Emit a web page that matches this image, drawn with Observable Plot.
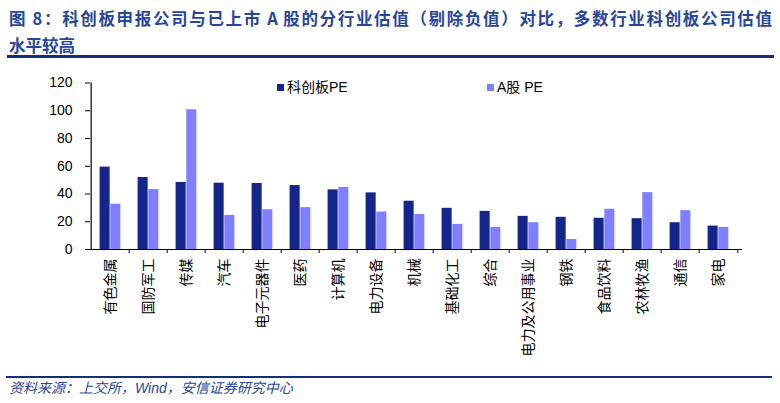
<!DOCTYPE html>
<html>
<head>
<meta charset="utf-8">
<script src="https://cdn.jsdelivr.net/npm/d3@7"></script>
<script src="https://cdn.jsdelivr.net/npm/@observablehq/plot@0.6"></script>
<style>
  html, body { margin: 0; padding: 0; background: #fff; }
  body { width: 780px; height: 403px; position: relative; overflow: hidden; font-family: "Liberation Sans", "Noto Sans CJK SC", sans-serif; }
  .title { position: absolute; left: 9px; top: 5px; width: 763px; color: #27469a; font-family: "Noto Sans CJK SC", sans-serif; font-weight: 700; font-size: 16.5px; line-height: 27px; }
  .title .l1 { display: block; text-align: justify; text-align-last: justify; white-space: nowrap; }
  .rule-top { position: absolute; left: 7px; top: 55px; width: 767px; height: 3px; background: #12307a; }
  .rule-bot { position: absolute; left: 6px; top: 376px; width: 766px; height: 2px; background: #12307a; }
  .source { position: absolute; left: 9px; top: 380px; color: #27469a; font-size: 14px; font-style: italic; font-family: "Liberation Sans", "Noto Sans CJK SC", sans-serif; line-height: 16px; }
  #chart { position: absolute; left: 0; top: 60px; }
  .legend { position: absolute; top: 79px; font-size: 14px; color: #000; font-family: "Liberation Sans", "Noto Sans CJK SC", sans-serif; line-height: 16px; white-space: nowrap; }
  .legend .sw { display: inline-block; width: 7px; height: 7px; margin-right: 3px; vertical-align: 1px; }
</style>
</head>
<body>
<div class="title"><span class="l1">图 8：科创板申报公司与已上市 A 股的分行业估值（剔除负值）对比，多数行业科创板公司估值</span><span>水平较高</span></div>
<div class="rule-top"></div>
<div id="chart"></div>
<div class="legend" id="leg1" style="left:277px"></div>
<div class="legend" id="leg2" style="left:487px"></div>
<div class="rule-bot"></div>
<div class="source">资料来源：上交所，Wind，安信证券研究中心</div>
<script>
const categories = ["有色金属","国防军工","传媒","汽车","电子元器件","医药","计算机","电力设备","机械","基础化工","综合","电力及公用事业","钢铁","食品饮料","农林牧渔","通信","家电"];
const seriesNames = ["科创板PE", "A股 PE"];
const kcbPE = [59.4, 51.9, 48.3, 47.8, 47.6, 46.1, 43.0, 40.8, 34.8, 29.7, 27.5, 23.9, 23.2, 22.5, 22.2, 19.3, 16.9];
const aPE = [32.6, 43.2, 100.7, 24.6, 28.7, 30.2, 44.7, 27.0, 25.3, 18.1, 15.9, 19.3, 7.2, 29.0, 41.0, 28.0, 15.9];
const yTicks = [0, 20, 40, 60, 80, 100, 120];
const colors = ["#15268a", "#7f7fff"];

const W = 780, H = 315, mL = 85, mR = 38, mT = 22.5, mB = 126;
const step = (W - mL - mR) / categories.length;

const data1 = categories.map((c, i) => ({cat: c, v: kcbPE[i]}));
const data2 = categories.map((c, i) => ({cat: c, v: aPE[i]}));
const font = "'Liberation Sans', 'Noto Sans CJK SC', sans-serif";

const chart = Plot.plot({
  width: W, height: H,
  marginLeft: mL, marginRight: mR, marginTop: mT, marginBottom: mB,
  style: {fontFamily: font, fontSize: "14px", color: "#000", background: "transparent"},
  x: {type: "band", domain: categories, padding: 0, axis: null, label: null},
  y: {domain: [0, 120], axis: null, label: null},
  marks: [
    Plot.barY(data1, {x: "cat", y: "v", fill: colors[0], insetLeft: 8.6, insetRight: step - 19.3}),
    Plot.barY(data2, {x: "cat", y: "v", fill: colors[1], insetLeft: 19.3, insetRight: step - 30}),
    Plot.ruleY([0], {stroke: "#000", strokeWidth: 1.2}),
    Plot.ruleX(categories.slice(0, 1), {x: d => d, dx: -step / 2, stroke: "#000", strokeWidth: 1.2}),
    Plot.axisY({ticks: yTicks, tickSize: 0, tickPadding: 13, fontSize: 14, fontFamily: font, label: null, tickFormat: d => String(d)}),
    Plot.axisY({ticks: yTicks, tickSize: 5, dx: 5, text: null, label: null, stroke: "#000"}),
    Plot.axisX({ticks: categories.slice(1), tickSize: 4, dx: -step / 2, text: null, label: null, stroke: "#000"}),
    Plot.axisX({ticks: categories.slice(-1), tickSize: 4, dx: step / 2, text: null, label: null, stroke: "#000"}),
    Plot.axisX({tickSize: 0, tickPadding: 9, tickRotate: -90, fontSize: 14, fontFamily: font, fill: "#000", label: null})
  ]
});
document.getElementById("chart").appendChild(chart);

function legend(id, name, color) {
  const el = document.getElementById(id);
  const sw = document.createElement("span");
  sw.className = "sw"; sw.style.background = color;
  el.appendChild(sw);
  el.appendChild(document.createTextNode(name));
}
legend("leg1", seriesNames[0], colors[0]);
legend("leg2", seriesNames[1], colors[1]);
</script>
</body>
</html>
